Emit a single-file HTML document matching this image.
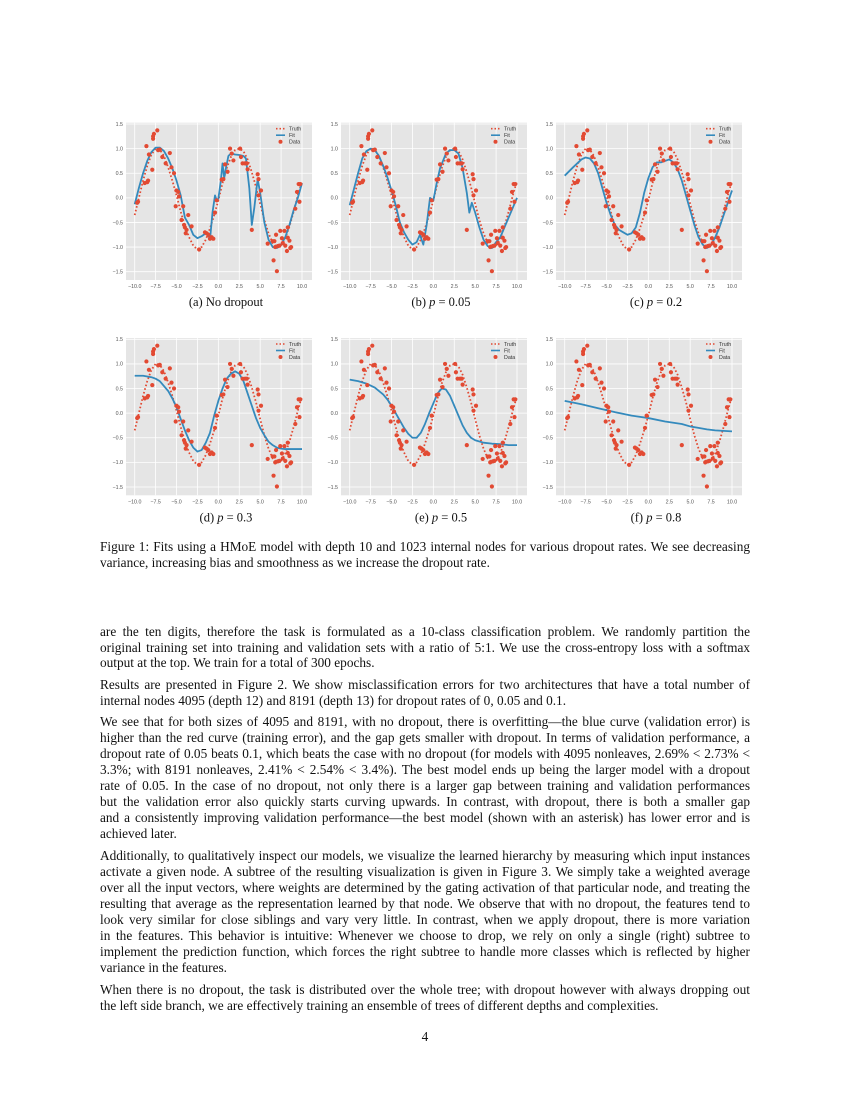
<!DOCTYPE html>
<html><head><meta charset="utf-8">
<style>
body{margin:0;background:#fff;}
#page{position:relative;width:850px;height:1100px;overflow:hidden;background:#fff;font-family:"Liberation Serif",serif;color:#111;}
.ln{position:absolute;left:100px;width:650px;font-size:13.3px;line-height:16px;white-space:nowrap;text-align:justify;text-align-last:justify;}
.ln.last{text-align-last:left;}
svg text{font-family:"Liberation Sans",sans-serif;}
.cap{font-family:"Liberation Serif",serif;font-size:12.5px;fill:#111;}
</style></head>
<body>
<div id="page">
<svg id="fig" width="850" height="540" style="position:absolute;left:0;top:0"></svg>

<div class="ln" style="top:539px">Figure 1: Fits using a HMoE model with depth 10 and 1023 internal nodes for various dropout rates. We see decreasing</div>
<div class="ln last" style="top:555px">variance, increasing bias and smoothness as we increase the dropout rate.</div>

<div>
<div class="ln" style="top:624px">are the ten digits, therefore the task is formulated as a 10-class classification problem. We randomly partition the</div>
<div class="ln" style="top:639.5px">original training set into training and validation sets with a ratio of 5:1. We use the cross-entropy loss with a softmax</div>
<div class="ln last" style="top:655px">output at the top. We train for a total of 300 epochs.</div>
</div>
<div>
<div class="ln" style="top:677px">Results are presented in Figure 2. We show misclassification errors for two architectures that have a total number of</div>
<div class="ln last" style="top:693px">internal nodes 4095 (depth 12) and 8191 (depth 13) for dropout rates of 0, 0.05 and 0.1.</div>
</div>
<div>
<div class="ln" style="top:714px">We see that for both sizes of 4095 and 8191, with no dropout, there is overfitting—the blue curve (validation error) is</div>
<div class="ln" style="top:730px">higher than the red curve (training error), and the gap gets smaller with dropout. In terms of validation performance, a</div>
<div class="ln" style="top:746px">dropout rate of 0.05 beats 0.1, which beats the case with no dropout (for models with 4095 nonleaves, 2.69% &lt; 2.73% &lt;</div>
<div class="ln" style="top:762px">3.3%; with 8191 nonleaves, 2.41% &lt; 2.54% &lt; 3.4%). The best model ends up being the larger model with a dropout</div>
<div class="ln" style="top:778px">rate of 0.05. In the case of no dropout, not only there is a larger gap between training and validation performances</div>
<div class="ln" style="top:794px">but the validation error also quickly starts curving upwards. In contrast, with dropout, there is both a smaller gap</div>
<div class="ln" style="top:810px">and a consistently improving validation performance—the best model (shown with an asterisk) has lower error and is</div>
<div class="ln last" style="top:826px">achieved later.</div>
</div>
<div>
<div class="ln" style="top:848px">Additionally, to qualitatively inspect our models, we visualize the learned hierarchy by measuring which input instances</div>
<div class="ln" style="top:864px">activate a given node. A subtree of the resulting visualization is given in Figure 3. We simply take a weighted average</div>
<div class="ln" style="top:880px">over all the input vectors, where weights are determined by the gating activation of that particular node, and treating the</div>
<div class="ln" style="top:896px">resulting that average as the representation learned by that node. We observe that with no dropout, the features tend to</div>
<div class="ln" style="top:912px">look very similar for close siblings and vary very little. In contrast, when we apply dropout, there is more variation</div>
<div class="ln" style="top:928px">in the features. This behavior is intuitive: Whenever we choose to drop, we rely on only a single (right) subtree to</div>
<div class="ln" style="top:944px">implement the prediction function, which forces the right subtree to handle more classes which is reflected by higher</div>
<div class="ln last" style="top:960px">variance in the features.</div>
</div>
<div>
<div class="ln" style="top:982px">When there is no dropout, the task is distributed over the whole tree; with dropout however with always dropping out</div>
<div class="ln last" style="top:998px">the left side branch, we are effectively training an ensemble of trees of different depths and complexities.</div>
</div>
<div style="position:absolute;left:0;width:850px;top:1029px;text-align:center;font-size:13.3px;line-height:16px">4</div>
</div>

<script>
// ---- data ----
const truthX = [-10,-9.5,-9,-8.5,-8,-7.5,-7,-6.5,-6,-5.5,-5,-4.5,-4,-3.5,-3,-2.5,-2,-1.5,-1,-0.5,0,0.5,1,1.5,2,2.5,3,3.5,4,4.5,5,5.5,6,6.5,7,7.5,8,8.5,9,9.5,10];
const truthY = [-0.35,0.0,0.35,0.65,0.88,1.0,0.98,0.85,0.62,0.35,0.05,-0.28,-0.57,-0.8,-0.97,-1.05,-1.0,-0.85,-0.62,-0.35,-0.05,0.3,0.6,0.83,0.97,1.0,0.95,0.78,0.52,0.22,-0.12,-0.45,-0.72,-0.92,-1.0,-0.97,-0.82,-0.58,-0.28,0.05,0.35];
const dataX = [-9.7,-9.6,-8.8,-8.6,-8.5,-8.4,-8.3,-7.9,-7.8,-7.8,-7.7,-7.3,-7.2,-7.0,-6.7,-6.3,-5.8,-5.6,-5.3,-5.1,-5.0,-4.8,-4.7,-4.4,-4.2,-4.1,-4.0,-3.9,-3.8,-3.6,-3.2,-2.3,-1.6,-1.4,-1.2,-1.0,-0.8,-0.6,-0.4,-0.2,0.4,0.6,0.8,1.1,1.4,1.6,1.8,2.6,2.7,2.9,3.2,3.4,3.5,4.0,4.7,4.8,4.8,5.1,5.9,6.5,6.6,6.7,6.8,6.9,7.0,7.1,7.3,7.4,7.6,7.7,7.9,8.0,8.2,8.3,8.3,8.5,8.6,8.7,9.2,9.4,9.6,9.7,9.8];
const dataY = [-0.1,-0.08,0.3,1.05,0.32,0.35,0.88,0.57,1.2,1.25,1.3,1.37,0.97,0.98,0.83,0.7,0.91,0.62,0.5,-0.17,0.15,0.12,0.03,-0.45,-0.17,-0.55,-0.6,-0.72,-0.65,-0.35,-0.58,-1.05,-0.7,-0.72,-0.75,-0.83,-0.8,-0.83,-0.3,-0.05,0.37,0.38,0.68,0.53,1.0,0.9,0.76,1.0,0.83,0.7,0.7,0.7,0.58,-0.65,0.48,0.38,0.05,0.15,-0.93,-0.88,-1.27,-0.88,-1.0,-0.75,-1.49,-0.98,-0.97,-0.67,-0.82,-0.92,-0.67,-0.97,-1.08,-0.81,-0.6,-0.87,-1.02,-1.0,-0.22,0.12,0.28,-0.08,0.28];
const fitAX = [-10,-9.5,-9,-8.5,-8,-7.5,-7,-6.5,-6,-5.5,-5,-4.5,-4,-3.5,-3,-2.5,-2,-1.5,-1.2,-1,-0.7,-0.4,-0.2,0,0.3,0.5,0.7,0.9,1.2,1.5,2,2.5,3,3.3,3.7,4,4.3,4.7,5,5.5,6,6.5,7,7.5,8,8.5,9,9.5,10];
const fitAY = [-0.13,0.2,0.5,0.75,0.93,1.02,1.02,0.95,0.8,0.6,0.35,0.05,-0.4,-0.55,-0.75,-0.82,-0.78,-0.72,-0.75,-0.85,-0.3,0.05,-0.05,-0.02,0.35,0.7,0.4,0.6,0.85,0.9,0.88,0.87,0.85,0.8,0.2,-0.55,-0.2,0.38,0.1,-0.5,-0.85,-1.0,-1.02,-0.95,-0.8,-0.55,-0.25,0.0,0.3];
const fitBX = [-10,-9,-8.5,-8,-7.5,-7,-6.5,-6,-5.5,-5,-4.5,-4,-3.5,-3,-2.5,-2,-1.6,-1.2,-0.8,-0.4,0,0.4,0.8,1.5,2,2.5,3,3.5,4,4.3,4.6,5,5.5,6,6.5,7,7.5,8,8.5,9,9.5,10];
const fitBY = [-0.15,0.5,0.8,0.95,1.0,0.97,0.85,0.65,0.42,0.15,-0.15,-0.5,-0.7,-0.85,-0.95,-0.9,-0.75,-0.95,-0.55,0.0,-0.05,0.3,0.6,0.9,0.97,0.97,0.9,0.6,0.1,-0.3,-0.1,-0.3,-0.6,-0.85,-0.98,-1.02,-0.9,-0.8,-0.6,-0.4,-0.2,0.0];
const fitCX = [-10,-9,-8,-7.5,-7,-6.5,-6,-5.5,-5,-4.5,-4,-3.5,-3,-2.5,-2,-1.5,-1,-0.5,0,0.5,1,1.5,2,2.5,3,3.5,4,4.5,5,5.5,6,6.5,7,7.5,8,8.5,9,9.5,10];
const fitCY = [0.45,0.62,0.78,0.82,0.8,0.7,0.5,0.2,-0.1,-0.35,-0.55,-0.65,-0.7,-0.75,-0.72,-0.6,-0.3,0.1,0.4,0.62,0.72,0.72,0.75,0.78,0.72,0.58,0.35,0.05,-0.25,-0.55,-0.8,-0.95,-1.02,-0.95,-0.8,-0.6,-0.35,-0.1,0.15];
const fitDX = [-10,-9,-8,-7.5,-7,-6.5,-6,-5.5,-5,-4.5,-4,-3.5,-3,-2.5,-2,-1.5,-1,-0.5,0,0.5,1,1.5,2,2.5,3,3.5,4,4.5,5,5.5,6,6.5,7,7.5,8,9,10];
const fitDY = [0.76,0.76,0.73,0.7,0.65,0.55,0.45,0.3,0.12,-0.12,-0.35,-0.55,-0.7,-0.78,-0.75,-0.6,-0.4,-0.05,0.25,0.5,0.7,0.8,0.85,0.8,0.65,0.4,0.15,-0.1,-0.3,-0.45,-0.58,-0.65,-0.7,-0.72,-0.73,-0.73,-0.73];
const fitEX = [-10,-9,-8,-7,-6,-5.5,-5,-4.5,-4,-3.5,-3,-2.5,-2,-1.5,-1,-0.5,0,0.5,1,1.5,2,2.5,3,3.5,4,4.5,5,6,7,8,9,10];
const fitEY = [0.68,0.65,0.6,0.52,0.38,0.28,0.15,0.0,-0.15,-0.3,-0.42,-0.5,-0.5,-0.4,-0.22,0.0,0.2,0.4,0.5,0.48,0.35,0.15,-0.05,-0.25,-0.4,-0.5,-0.55,-0.6,-0.62,-0.63,-0.65,-0.65];
const fitFX = [-10,-8,-6,-4,-2,0,2,4,5,6,7,8,10];
const fitFY = [0.25,0.18,0.1,0.02,-0.05,-0.1,-0.17,-0.22,-0.27,-0.3,-0.33,-0.35,-0.37];
const xTicks = [-10,-7.5,-5,-2.5,0,2.5,5,7.5,10];
const xTickLabels = ["−10.0","−7.5","−5.0","−2.5","0.0","2.5","5.0","7.5","10.0"];
const yTicks = [-1.5,-1,-0.5,0,0.5,1,1.5];
const yTickLabels = ["−1.5","−1.0","−0.5","0.0","0.5","1.0","1.5"];
const panelNames = ["a","b","c","d","e","f"];
const panelP = ["No dropout","0.05","0.2","0.3","0.5","0.8"];

const fits = [[fitAX,fitAY],[fitBX,fitBY],[fitCX,fitCY],[fitDX,fitDY],[fitEX,fitEY],[fitFX,fitFY]];
const NS="http://www.w3.org/2000/svg";
const svg=document.getElementById('fig');
function mk(tag,attrs,parent){const e=document.createElementNS(NS,tag);for(const k in attrs)e.setAttribute(k,attrs[k]);parent.appendChild(e);return e;}
const RED="#E24A33", BLUE="#348ABD";
for(let i=0;i<6;i++){
  const ox=126+(i%3)*215, oy=122.7+Math.floor(i/3)*215.3;
  const sx=v=>ox+8.7+(v+10)*8.365;
  const sy=v=>oy+1.3+(1.5-v)*49.23;
  const W=186, H=157.3;
  const g=mk('g',{},svg);
  
  
  const bg=mk('rect',{x:ox,y:oy,width:W,height:H,fill:'#E5E5E5'},g);
  
  
  xTicks.forEach((t,k)=>{
    mk('line',{x1:sx(t),x2:sx(t),y1:oy,y2:oy+H,stroke:'#fff','stroke-width':0.8},g);
    const tl=mk('text',{x:sx(t),y:oy+H+8,'font-size':5.3,fill:'#555','text-anchor':'middle'},g);
    tl.textContent=xTickLabels[k];
    
    
  });
  yTicks.forEach((t,k)=>{
    mk('line',{x1:ox,x2:ox+W,y1:sy(t),y2:sy(t),stroke:'#fff','stroke-width':0.8},g);
    const tl=mk('text',{x:ox-3,y:sy(t)+1.8,'font-size':5.3,fill:'#555','text-anchor':'end'},g);
    tl.textContent=yTickLabels[k];
    
    
  });
  const tp=mk('polyline',{points:truthX.map((x,k)=>sx(x)+','+sy(truthY[k])).join(' '),fill:'none',stroke:RED,'stroke-width':1.8,'stroke-dasharray':'1.6,2.2'},g);
  
  
  const fx=fits[i][0], fy=fits[i][1];
  const fp=mk('polyline',{points:fx.map((x,k)=>sx(x)+','+sy(fy[k])).join(' '),fill:'none',stroke:BLUE,'stroke-width':1.8,'stroke-linejoin':'round'},g);
  
  
  dataX.forEach((x,k)=>{
    const c=mk('circle',{cx:sx(x),cy:sy(dataY[k]),r:2.1,fill:RED},g);
    
    
  });
  // legend
  const lg=mk('g',{},g);
  
  
  const lx=ox+W-36, ly=oy+6;
  mk('line',{x1:lx,x2:lx+9,y1:ly,y2:ly,stroke:RED,'stroke-width':1.6,'stroke-dasharray':'1.5,2'},lg);
  mk('line',{x1:lx,x2:lx+9,y1:ly+6.5,y2:ly+6.5,stroke:BLUE,'stroke-width':1.6},lg);
  mk('circle',{cx:lx+4.5,cy:ly+13,r:2,fill:RED},lg);
  ["Truth","Fit","Data"].forEach((s,k)=>{const t=mk('text',{x:lx+13,y:ly+2+k*6.5,'font-size':5.3,fill:'#333'},lg);t.textContent=s;});
  // caption
  const cap=mk('text',{x:ox+W/2+7,y:oy+H+26,'text-anchor':'middle',class:'cap'},svg);
  
  
  if(i===0){cap.textContent='(a) No dropout';}
  else{
    const a=mk('tspan',{},cap);a.textContent='('+panelNames[i]+') ';
    const b=mk('tspan',{'font-style':'italic'},cap);b.textContent='p';
    const c=mk('tspan',{},cap);c.textContent=' = '+panelP[i];
  }
}
</script>
</body></html>
